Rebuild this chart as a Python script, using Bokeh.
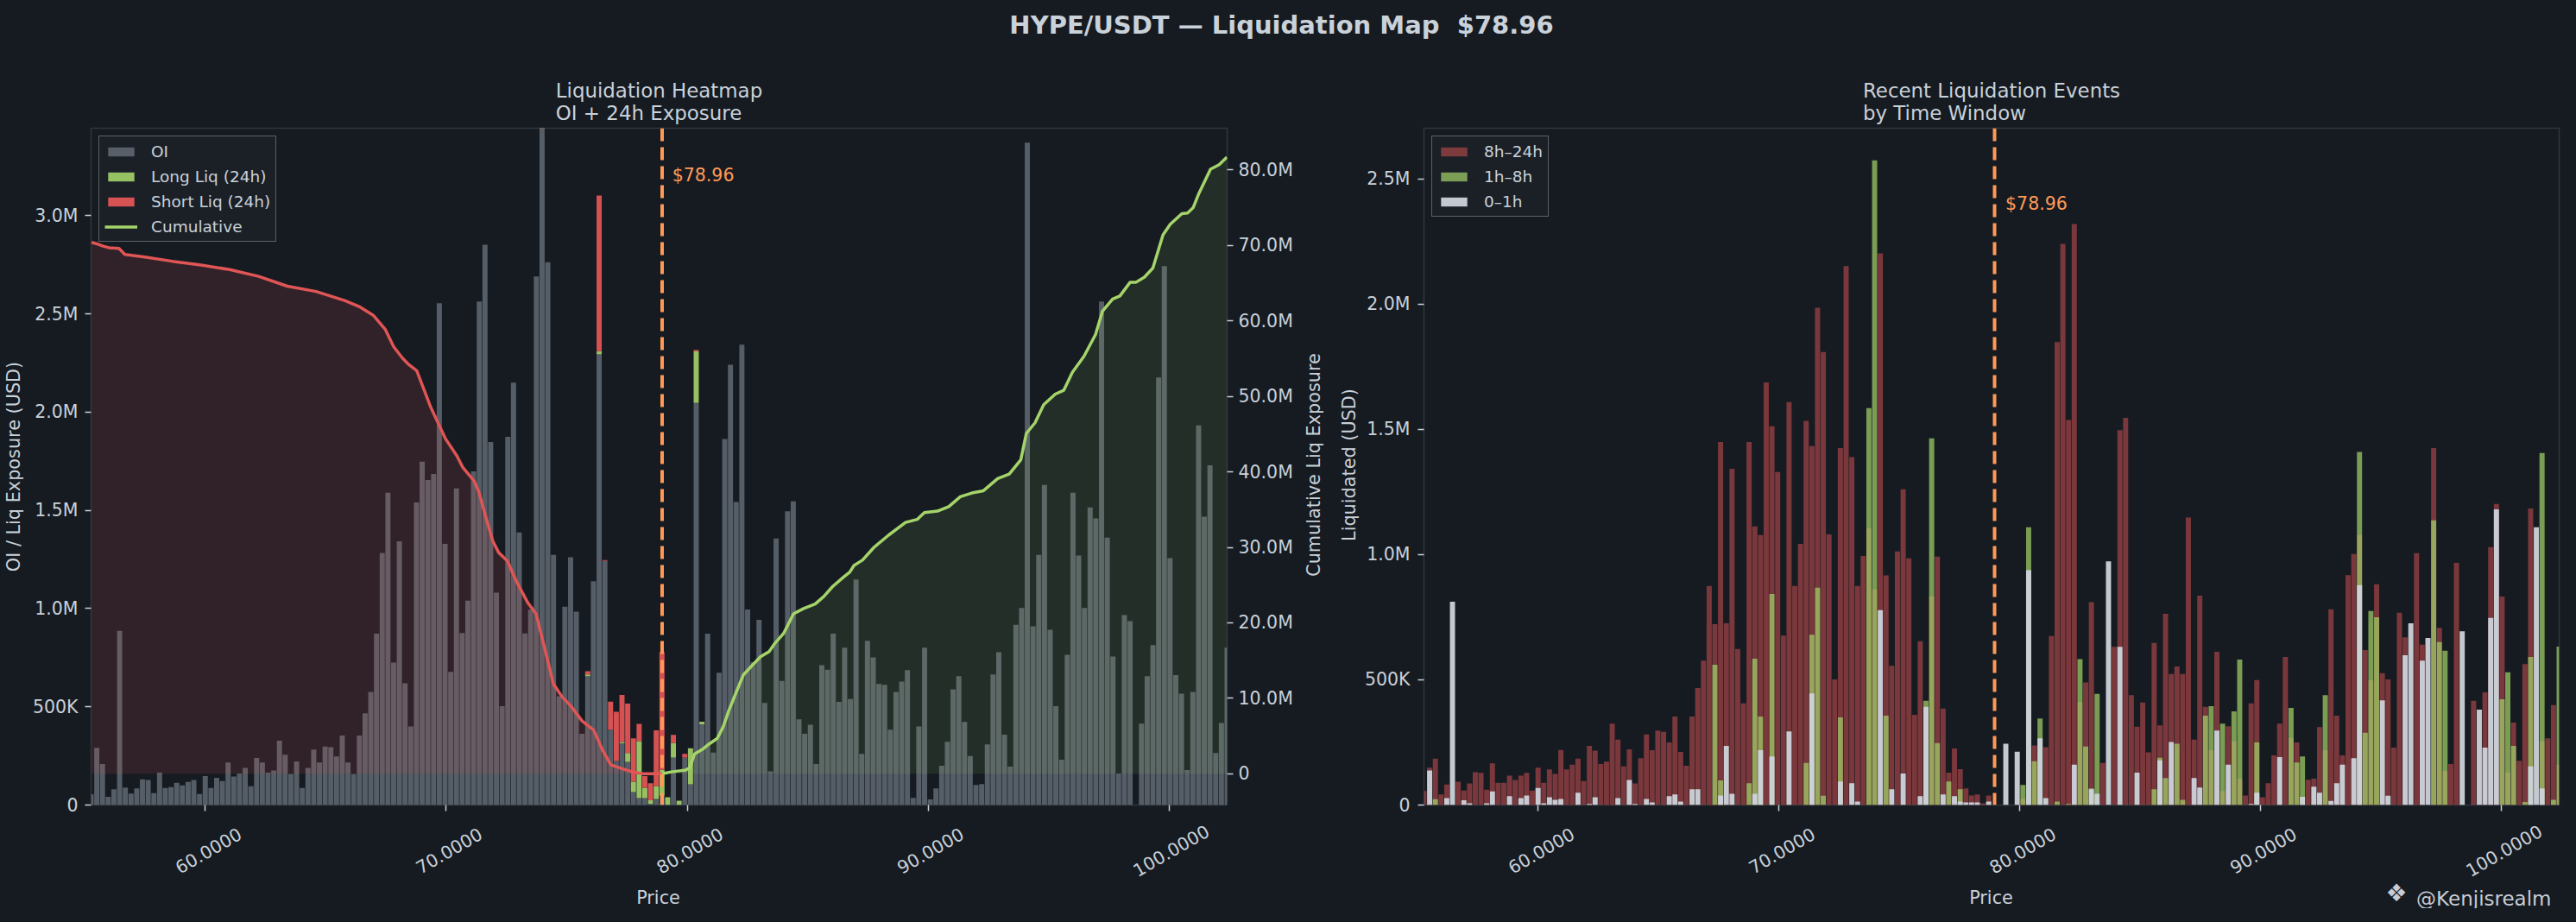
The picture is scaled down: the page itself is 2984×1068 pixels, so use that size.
import math
import numpy as np
from bokeh.plotting import figure
from bokeh.models import (Range1d, LinearAxis, FixedTicker, CustomJSTickFormatter,
                          Span, Label, Legend, LegendItem, ColumnDataSource)
from bokeh.layouts import column, row
from bokeh.embed import file_html
from bokeh.resources import INLINE

# ---------------- data ----------------
PRICE = 78.96
PRICE_LO, PRICE_HI, N_BINS = 55.27, 102.40, 200

# Open interest per price bin (thousands USD)
oi_k = [
    55, 291, 209, 42, 80, 887, 89, 58, 85, 131,
    127, 60, 165, 87, 91, 113, 100, 118, 127, 56,
    147, 87, 138, 122, 216, 145, 160, 189, 96, 240,
    216, 165, 176, 327, 256, 158, 222, 87, 189, 282,
    216, 298, 294, 247, 354, 216, 158, 354, 467, 576,
    872, 1283, 1590, 725, 1343, 620, 400, 1541, 1748, 1655,
    1686, 2555, 1330, 678, 1612, 876, 1041, 1699, 2564, 2853,
    1848, 1081, 503, 1875, 2151, 1388, 874, 994, 2691, 3500,
    2764, 1274, 554, 1010, 1261, 985, 363, 656, 1139, 2295,
    1243, 384, 224, 314, 220, 66, 35, 35, 6, 31,
    47, 0, 242, 0, 242, 106, 2048, 411, 872, 267,
    674, 1864, 2242, 1543, 2344, 996, 727, 943, 520, 171,
    1357, 632, 1495, 1546, 436, 363, 409, 209, 712, 689,
    872, 525, 801, 540, 1148, 260, 836, 752, 616, 612,
    383, 576, 629, 687, 36, 400, 801, 29, 85, 200,
    322, 589, 656, 423, 249, 102, 107, 309, 665, 778,
    358, 196, 918, 1003, 3372, 910, 1274, 1630, 892, 503,
    231, 765, 1590, 1270, 1003, 1515, 1459, 2564, 1361, 756,
    160, 967, 936, 0, 414, 656, 814, 2177, 2744, 1257,
    661, 567, 178, 576, 1933, 1468, 1730, 265, 418, 801,
]

# 24h liquidation exposure near the price (bin index, thousands USD)
liq_bins    = [87, 89, 90, 91, 92, 93, 94, 95, 96, 97, 98, 99, 100, 101, 102, 103, 104, 105, 106, 107]
long_liq_k  = [9, 16, 0, 0, 0, 7, 45, 53, 290, 53, 18, 66, 132, 40, 75, 22, 0, 183, 262, 13]
short_liq_k = [16, 792, 4, 142, 251, 239, 251, 220, 88, 59, 87, 283, 600, 0, 40, 0, 18, 0, 7, 0]

# Cumulative exposure below price (millions USD)
cum_short_x = [55.29, 55.53, 55.77, 56.01, 56.43, 56.67, 57.44, 58.64, 59.83, 61.02,
               62.22, 63.41, 64.60, 65.79, 66.39, 66.99, 67.47, 67.82, 68.18, 68.42,
               68.78, 69.37, 69.97, 70.45, 70.69, 71.16, 71.35, 71.70, 71.94, 72.18,
               72.54, 72.90, 73.38, 73.73, 74.09, 74.45, 74.81, 75.17, 75.64, 76.12,
               76.48, 76.83, 77.19, 77.67, 78.15, 78.75, 78.96]
cum_short_m = [70.4, 70.2, 69.9, 69.7, 69.6, 68.8, 68.5, 67.9, 67.4, 66.8,
               65.9, 64.6, 63.9, 62.7, 61.9, 60.7, 58.9, 56.6, 55.1, 54.3,
               53.4, 48.5, 44.4, 42.1, 40.6, 38.8, 37.4, 33.4, 30.8, 29.3,
               28.2, 25.6, 22.7, 21.2, 16.6, 11.9, 10.2, 9.0, 7.0, 5.8,
               3.2, 1.2, 0.8, 0.3, 0.0, 0.0, 0.0]
# Cumulative exposure above price (millions USD)
cum_long_x = [78.96, 79.34, 79.94, 80.11, 80.30, 80.66, 80.89, 81.25, 81.49, 81.73,
              81.97, 82.33, 82.68, 83.04, 83.40, 83.64, 84.00, 84.41, 84.83, 85.31,
              85.67, 86.03, 86.50, 86.74, 86.92, 87.27, 87.75, 88.35, 89.06, 89.54,
              89.84, 90.38, 90.85, 91.33, 91.81, 92.29, 92.88, 93.36, 93.84, 94.07,
              94.43, 94.79, 95.27, 95.62, 95.98, 96.46, 96.94, 97.23, 97.65, 97.95,
              98.37, 98.61, 98.97, 99.32, 99.74, 100.04, 100.52, 100.76, 100.99, 101.23,
              101.71, 102.07, 102.39]
cum_long_m = [0.0, 0.25, 0.5, 0.8, 2.6, 3.3, 3.9, 4.7, 6.2, 8.4,
              10.3, 13.1, 14.3, 15.5, 16.2, 17.3, 18.6, 21.2, 21.9, 22.5,
              23.5, 24.8, 26.1, 26.7, 27.6, 28.3, 30.0, 31.6, 33.3, 33.7,
              34.6, 34.8, 35.4, 36.7, 37.2, 37.5, 39.1, 39.7, 41.6, 45.1,
              46.5, 48.9, 50.3, 50.8, 53.2, 55.3, 58.2, 61.3, 62.9, 63.3,
              65.1, 65.1, 65.8, 67.0, 71.4, 72.8, 74.2, 74.3, 75.0, 76.9,
              80.1, 80.7, 81.7]

# Recent liquidation events per bin (thousands USD)
ev_8h_24h_k = [
    56, 149, 185, 42, 82, 0, 93, 58, 86, 131,
    128, 61, 166, 89, 89, 117, 100, 117, 128, 58,
    149, 89, 142, 124, 220, 142, 161, 185, 96, 236,
    217, 164, 173, 325, 261, 154, 222, 86, 187, 282,
    219, 297, 292, 250, 353, 212, 157, 353, 467, 577,
    875, 722, 1450, 726, 1343, 623, 406, 1450, 1113, 1078,
    1688, 1513, 1330, 677, 1609, 875, 1043, 1534, 1433, 1986,
    1809, 1081, 502, 1426, 2152, 1389, 875, 995, 1106, 861,
    2203, 917, 556, 1013, 1261, 985, 360, 654, 0, 833,
    992, 385, 129, 226, 143, 66, 38, 42, 7, 38,
    0, 0, 0, 0, 0, 24, 0, 238, 0, 231,
    675, 1849, 2241, 1538, 2320, 411, 490, 810, 0, 168,
    0, 632, 1497, 1546, 439, 313, 409, 210, 647, 318,
    764, 523, 553, 523, 1148, 261, 836, 392, 219, 612,
    56, 315, 254, 105, 38, 406, 499, 31, 87, 198,
    325, 591, 268, 250, 0, 101, 105, 311, 219, 782,
    357, 198, 918, 1002, 1078, 619, 499, 882, 527, 502,
    229, 768, 670, 0, 1006, 640, 0, 1426, 708, 136,
    164, 967, 0, 0, 416, 0, 450, 1030, 1202, 833,
    129, 329, 177, 563, 1184, 0, 255, 266, 399, 161,
]
ev_1h_8h_k = [
    0, 0, 23, 0, 0, 0, 0, 0, 0, 0,
    0, 0, 0, 0, 0, 0, 0, 0, 0, 0,
    0, 0, 0, 0, 0, 0, 0, 0, 0, 0,
    0, 0, 0, 0, 0, 0, 0, 0, 0, 0,
    0, 0, 0, 0, 0, 0, 0, 0, 0, 0,
    0, 560, 98, 0, 0, 0, 0, 87, 584, 353,
    0, 843, 0, 0, 0, 0, 0, 168, 680, 868,
    37, 0, 0, 350, 0, 0, 0, 0, 1585, 2575,
    0, 357, 0, 0, 0, 0, 0, 0, 416, 1464,
    247, 0, 94, 0, 63, 0, 0, 0, 0, 0,
    0, 0, 0, 0, 0, 80, 1109, 175, 346, 0,
    0, 14, 0, 4, 0, 583, 234, 66, 444, 0,
    0, 0, 0, 0, 0, 0, 0, 0, 63, 189,
    108, 0, 245, 21, 0, 0, 0, 357, 395, 0,
    325, 0, 374, 581, 0, 0, 250, 0, 0, 0,
    0, 0, 388, 170, 194, 0, 0, 0, 439, 0,
    0, 0, 0, 0, 1410, 289, 775, 750, 0, 0,
    0, 0, 0, 0, 0, 0, 0, 1137, 651, 616,
    0, 0, 0, 0, 0, 0, 0, 0, 0, 422,
    530, 236, 0, 12, 591, 0, 1406, 0, 21, 633,
]
ev_0_1h_k = [
    0, 138, 0, 0, 28, 812, 0, 19, 7, 0,
    0, 7, 54, 0, 0, 35, 0, 28, 38, 0,
    68, 7, 31, 21, 24, 0, 0, 49, 0, 4,
    31, 0, 0, 0, 28, 0, 100, 4, 0, 24,
    10, 0, 0, 35, 42, 14, 0, 63, 63, 0,
    0, 0, 38, 236, 45, 0, 0, 0, 45, 219,
    0, 194, 0, 0, 294, 0, 0, 0, 446, 0,
    0, 0, 0, 94, 0, 87, 14, 0, 0, 0,
    778, 0, 63, 0, 126, 0, 0, 35, 392, 0,
    0, 42, 0, 35, 14, 10, 10, 10, 0, 14,
    0, 0, 245, 0, 213, 0, 938, 0, 266, 28,
    0, 0, 0, 0, 161, 0, 0, 63, 45, 0,
    973, 0, 632, 0, 0, 129, 0, 0, 0, 178,
    0, 252, 0, 0, 0, 108, 70, 0, 0, 297,
    0, 161, 0, 0, 0, 4, 49, 0, 0, 0,
    191, 0, 0, 0, 33, 0, 73, 49, 0, 16,
    87, 161, 0, 187, 878, 0, 0, 0, 418, 37,
    0, 0, 598, 726, 0, 577, 667, 0, 0, 0,
    0, 0, 694, 0, 0, 381, 229, 747, 1181, 0,
    0, 0, 0, 0, 154, 1109, 66, 0, 0, 0,
]

x_ticks = [60, 70, 80, 90, 100]
left_y_ticks = [0, 500e3, 1.0e6, 1.5e6, 2.0e6, 2.5e6, 3.0e6]
cum_ticks = [0, 10e6, 20e6, 30e6, 40e6, 50e6, 60e6, 70e6, 80e6]
right_y_ticks = [0, 500e3, 1.0e6, 1.5e6, 2.0e6, 2.5e6]

for name, arr in [("oi", oi_k), ("r", ev_8h_24h_k), ("g", ev_1h_8h_k), ("w", ev_0_1h_k)]:
    if len(arr) != N_BINS:
        raise SystemExit(f"{name} has {len(arr)} values")

# ---------------- style / layout constants ----------------
BG = "#161b22"
TXT = "#c9d1d9"
FONT = "DejaVu Sans"
RED = "#e05555"
GREEN = "#a5d46a"
GREY = "#8b949e"
ORANGE = "#ff9955"
EDGE = "#30363d"
TICK_FS = "20.5px"
AXLAB_FS = "20.8px"
TITLE_FS = "22.9px"

W_TOTAL = 2968
HEAD_H = 60
ROW_H = 992
TOP_B = 88
FRAME_H = 784
BOT_B = 12
MAIN_H = TOP_B + FRAME_H + BOT_B
FOOT_H = ROW_H - MAIN_H

W1, W_STRIP = 1498, 77
W2 = W_TOTAL - W1 - W_STRIP
P1_BL, P1_BR = 103, 79
P2_BL, P2_BR = 71, 7
FW1 = W1 - P1_BL - P1_BR
FW2 = W2 - P2_BL - P2_BR
PX = (PRICE_HI - PRICE_LO) / FW1     # data units per screen pixel along x

centers = np.linspace(PRICE_LO, PRICE_HI, N_BINS)
step = centers[1] - centers[0]
bw = step * 0.9

yfmt = CustomJSTickFormatter(code="""
if (tick == 0) { return "0"; }
if (Math.abs(tick) >= 1e6) { return (tick / 1e6).toFixed(1) + "M"; }
return (tick / 1e3).toFixed(0) + "K";
""")
blank_fmt = CustomJSTickFormatter(code="return '';")


def style_axis(ax, label_standoff, title_standoff=0):
    ax.axis_line_color = None
    ax.major_tick_line_color = TXT
    ax.major_tick_line_width = 1.5
    ax.major_tick_out = 7
    ax.major_tick_in = 0
    ax.minor_tick_line_color = None
    ax.major_label_text_color = TXT
    ax.major_label_text_font = FONT
    ax.major_label_text_font_size = TICK_FS
    ax.major_label_standoff = label_standoff
    ax.axis_label_text_color = TXT
    ax.axis_label_text_font = FONT
    ax.axis_label_text_font_size = AXLAB_FS
    ax.axis_label_text_font_style = "normal"
    ax.axis_label_standoff = title_standoff


def plain_fig(width, height, x_range=None, align_frame=False):
    f = figure(width=width, height=height,
               x_range=x_range if x_range is not None else Range1d(0, width),
               y_range=Range1d(0, height),
               toolbar_location=None, output_backend="svg", min_border=0,
               x_axis_location=None, y_axis_location=None)
    f.background_fill_color = BG
    f.border_fill_color = BG
    f.outline_line_color = None
    f.grid.visible = False
    if not align_frame:
        try:
            f.frame_align = False
        except Exception:
            pass
    return f


def text(f, x, y, s, size=AXLAB_FS, align="center", baseline="alphabetic", angle=0.0, font=FONT,
         style="normal", color=TXT):
    f.add_layout(Label(x=x, y=y, text=s, text_align=align, text_baseline=baseline, angle=angle,
                       text_font=font, text_font_size=size, text_font_style=style, text_color=color))


def base_fig(fw, ymax, bl, br, title):
    p = figure(frame_width=fw, frame_height=FRAME_H, x_range=Range1d(PRICE_LO, PRICE_HI),
               y_range=Range1d(0, ymax), toolbar_location=None, output_backend="svg",
               min_border_left=bl, min_border_right=br, min_border_top=TOP_B, min_border_bottom=BOT_B)
    p.background_fill_color = BG
    p.border_fill_color = BG
    p.outline_line_color = EDGE
    p.outline_line_width = 1.5
    p.grid.visible = False
    p.title.text = title
    p.title.align = "center"
    p.title.text_font = FONT
    p.title.text_font_size = TITLE_FS
    p.title.text_font_style = "normal"
    p.title.text_color = TXT
    p.title.text_line_height = 1.0
    p.title.standoff = 10
    p.xaxis.ticker = FixedTicker(ticks=x_ticks)
    p.xaxis.formatter = blank_fmt
    style_axis(p.xaxis[0], 0)
    p.xaxis.major_label_text_font_size = "0px"
    p.yaxis.formatter = yfmt
    return p


def add_footer(p, width):
    """Strip under a panel whose frame is aligned with the panel: rotated tick labels and 'Price'."""
    f = plain_fig(width, FOOT_H, x_range=p.x_range, align_frame=True)
    for t in x_ticks:
        text(f, t + 3.75 * PX, FOOT_H - 40.5, f"{t:.4f}", size=TICK_FS, angle=math.pi / 6)
    text(f, (PRICE_LO + PRICE_HI) / 2, 13, "Price")
    return f


def style_legend(lg):
    lg.location = "top_left"
    lg.margin = 9
    lg.label_text_font = FONT
    lg.label_text_font_size = "18.5px"
    lg.label_text_color = TXT
    lg.background_fill_color = "#1c2128"
    lg.background_fill_alpha = 0.92
    lg.border_line_color = "#9aa0a6"
    lg.border_line_width = 1.5
    lg.glyph_width = 38
    lg.glyph_height = 13
    lg.label_standoff = 16
    lg.label_height = 22
    lg.padding = 6
    lg.spacing = 7


# ---------------- header ----------------
head = plain_fig(W_TOTAL, HEAD_H)
text(head, W_TOTAL / 2, HEAD_H - 28, f"HYPE/USDT \u2014 Liquidation Map \u00a0${PRICE:.2f}",
     size="29px", style="bold")

# ---------------- left: heatmap ----------------
oi = np.array(oi_k, dtype=float) * 1e3
long_full = np.zeros(N_BINS)
short_full = np.zeros(N_BINS)
for i, l, s in zip(liq_bins, long_liq_k, short_liq_k):
    long_full[i] = l * 1e3
    short_full[i] = s * 1e3
src = ColumnDataSource(dict(x=centers, oi=oi, l_top=oi + long_full, s_top=oi + long_full + short_full))

p1 = base_fig(FW1, 3.446e6, P1_BL, P1_BR, "Liquidation Heatmap\nOI + 24h Exposure")
style_axis(p1.yaxis[0], 8, 7)
p1.yaxis.ticker = FixedTicker(ticks=left_y_ticks)
p1.yaxis.axis_label = "OI / Liq Exposure (USD)"
p1.extra_y_ranges = {"cum": Range1d(-4.14e6, 85.53e6)}

r_oi = p1.vbar(x="x", width=bw, bottom=0, top="oi", source=src, fill_color=GREY, fill_alpha=0.55, line_color=None)
r_long = p1.vbar(x="x", width=bw, bottom="oi", top="l_top", source=src, fill_color=GREEN, fill_alpha=0.9, line_color=None)
r_short = p1.vbar(x="x", width=bw, bottom="l_top", top="s_top", source=src, fill_color=RED, fill_alpha=0.95, line_color=None)

cs_y = np.array(cum_short_m) * 1e6
cl_y = np.array(cum_long_m) * 1e6
p1.varea(x=cum_short_x, y1=np.zeros(len(cs_y)), y2=cs_y, y_range_name="cum", fill_color=RED, fill_alpha=0.13)
p1.varea(x=cum_long_x, y1=np.zeros(len(cl_y)), y2=cl_y, y_range_name="cum", fill_color=GREEN, fill_alpha=0.1)
p1.line(x=cum_short_x, y=cs_y, y_range_name="cum", line_color=RED, line_width=3.5)
r_cum = p1.line(x=cum_long_x, y=cl_y, y_range_name="cum", line_color=GREEN, line_width=3.5)

ax_r = LinearAxis(y_range_name="cum", ticker=FixedTicker(ticks=cum_ticks), formatter=yfmt)
style_axis(ax_r, 6)
p1.add_layout(ax_r, "right")

p1.add_layout(Span(location=PRICE, dimension="height", line_color=ORANGE, line_width=4, line_dash="15 7"))
p1.add_layout(Label(x=79.38, y=3.207e6, text=f"${PRICE:.2f}", text_align="left", text_baseline="alphabetic",
                    text_font=FONT, text_font_size=TICK_FS, text_color=ORANGE))

lg1 = Legend(items=[LegendItem(label="OI", renderers=[r_oi]),
                    LegendItem(label="Long Liq (24h)", renderers=[r_long]),
                    LegendItem(label="Short Liq (24h)", renderers=[r_short]),
                    LegendItem(label="Cumulative", renderers=[r_cum])])
style_legend(lg1)
p1.add_layout(lg1)

foot1 = add_footer(p1, W1)

# ---------------- strip between the panels: vertical axis titles ----------------
strip = plain_fig(W_STRIP, ROW_H)
y_mid = ROW_H - (TOP_B + FRAME_H / 2) + 2
text(strip, 21, y_mid, "Cumulative Liq Exposure", baseline="middle", angle=math.pi / 2)
text(strip, 62, y_mid, "Liquidated (USD)", baseline="middle", angle=math.pi / 2)

# ---------------- right: events ----------------
src2 = ColumnDataSource(dict(x=centers, r=np.array(ev_8h_24h_k) * 1e3,
                             g=np.array(ev_1h_8h_k) * 1e3, w=np.array(ev_0_1h_k) * 1e3))
p2 = base_fig(FW2, 2.703e6, P2_BL, P2_BR, "Recent Liquidation Events\nby Time Window")
style_axis(p2.yaxis[0], 9)
p2.yaxis.ticker = FixedTicker(ticks=right_y_ticks)

rr = p2.vbar(x="x", width=bw, bottom=0, top="r", source=src2, fill_color=RED, fill_alpha=0.5, line_color=None)
rg = p2.vbar(x="x", width=bw, bottom=0, top="g", source=src2, fill_color=GREEN, fill_alpha=0.7, line_color=None)
rw = p2.vbar(x="x", width=bw, bottom=0, top="w", source=src2, fill_color="#cdd3da", fill_alpha=0.95, line_color=None)

p2.add_layout(Span(location=PRICE, dimension="height", line_color=ORANGE, line_width=4, line_dash="15 7"))
p2.add_layout(Label(x=79.41, y=2.403e6, text=f"${PRICE:.2f}", text_align="left", text_baseline="alphabetic",
                    text_font=FONT, text_font_size=TICK_FS, text_color=ORANGE))

lg2 = Legend(items=[LegendItem(label="8h\u201324h", renderers=[rr]),
                    LegendItem(label="1h\u20138h", renderers=[rg]),
                    LegendItem(label="0\u20131h", renderers=[rw])])
style_legend(lg2)
p2.add_layout(lg2)

foot2 = add_footer(p2, W2)
# watermark (footer frame shares the panel's x scale)
text(foot2, 96.21 - 15 * PX, 18, "\u2756", size="28px", baseline="middle", color="#c8ccd4")
text(foot2, PRICE_HI - 8 * PX, 12, "@Kenjisrealm", size="23px", align="right", color="#c8ccd4")

layout = column(head, row(column(p1, foot1), strip, column(p2, foot2)))
html = file_html(layout, INLINE, title="HYPE/USDT Liquidation Map")
html = html.replace("<head>", "<head><style>html,body{background:#161b22;}</style>", 1)
open("out.html", "w").write(html)
